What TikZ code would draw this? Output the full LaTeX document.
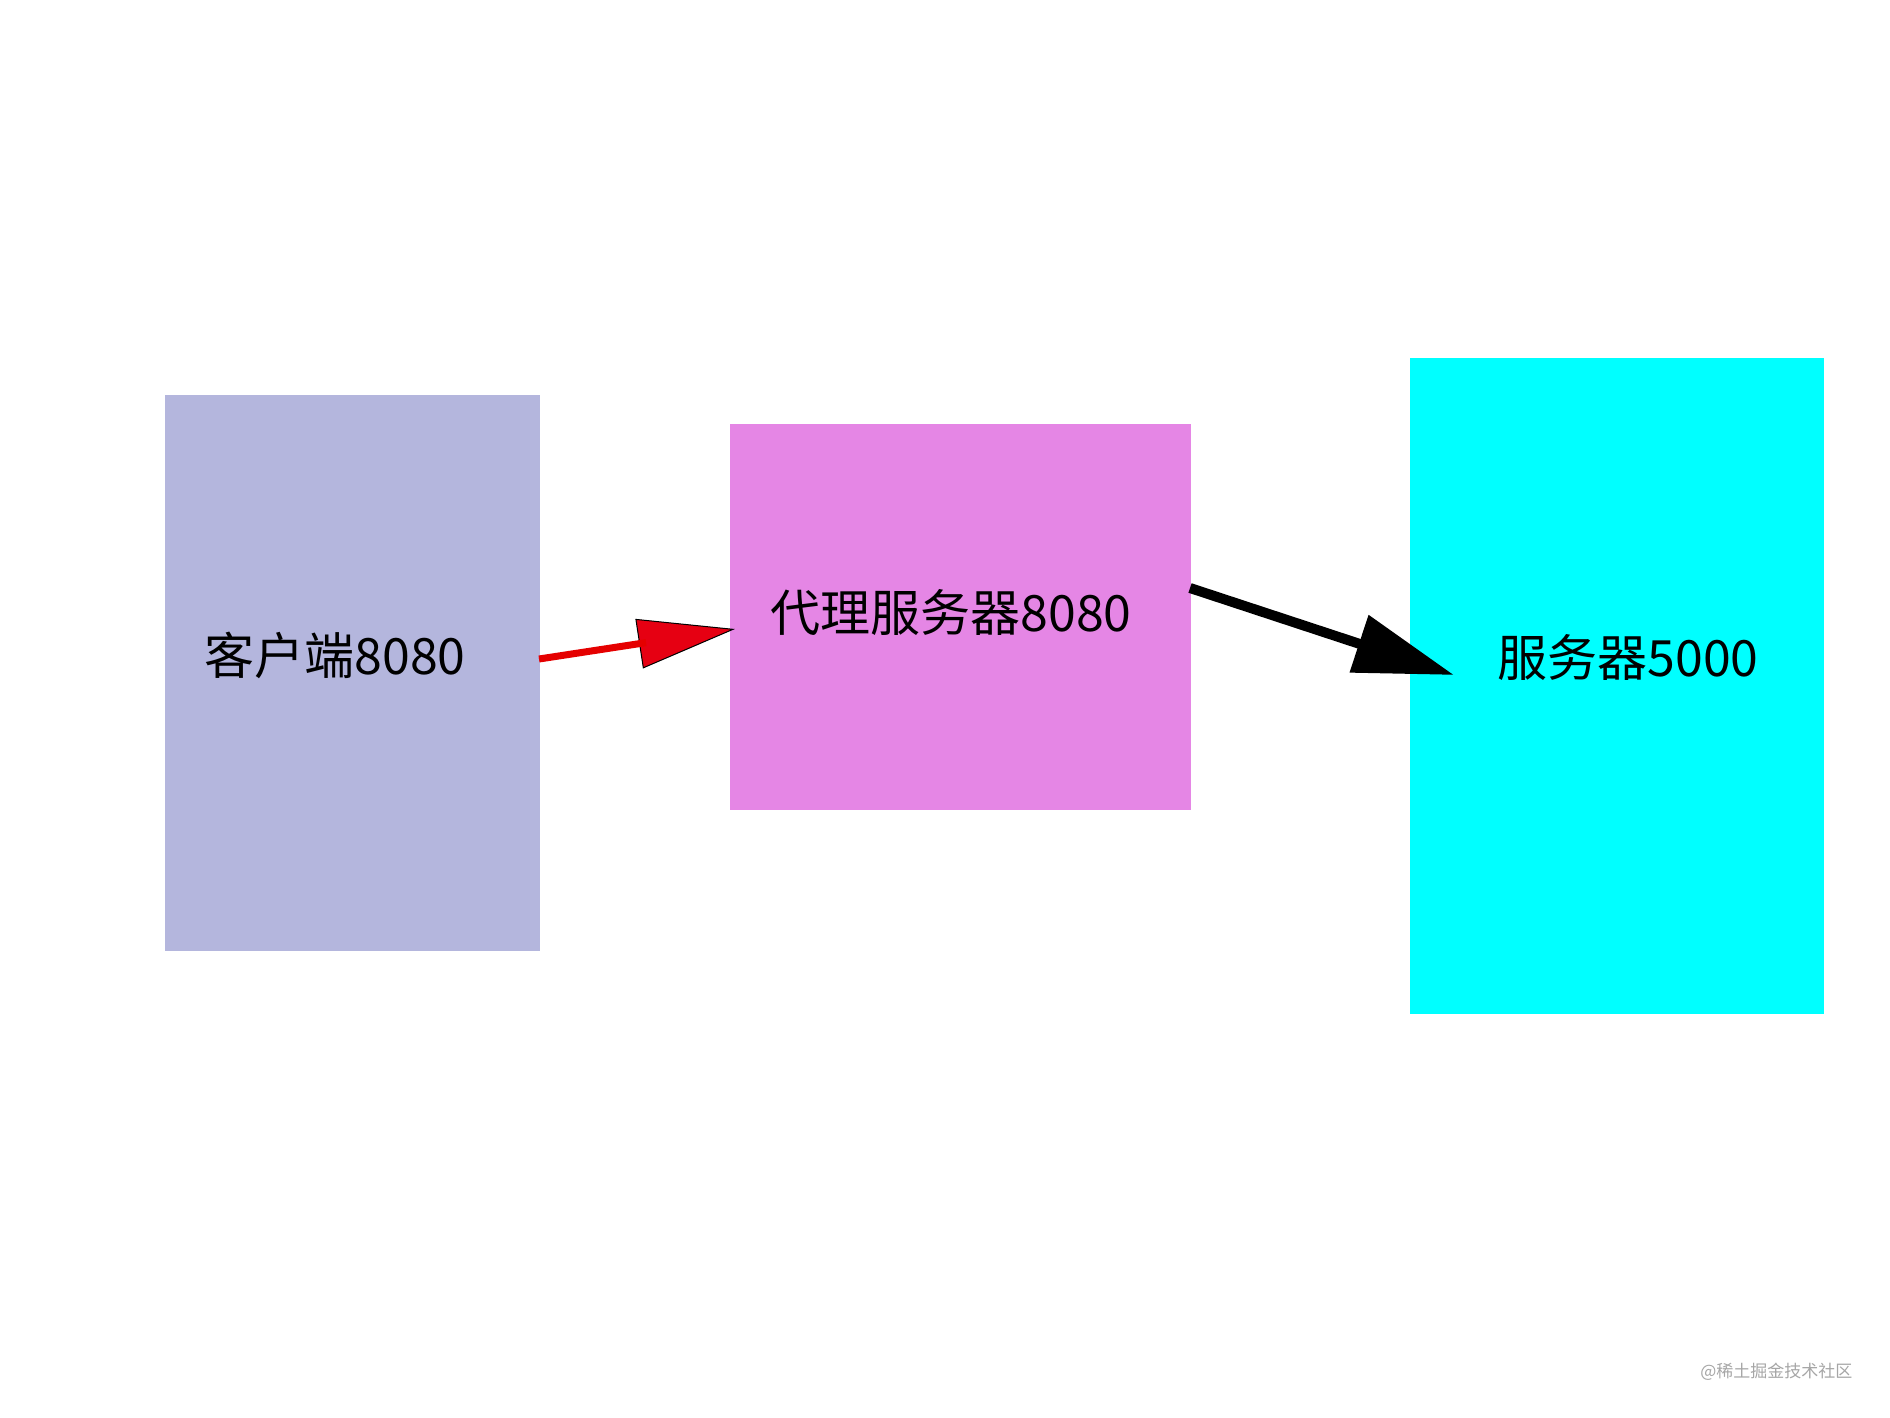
\documentclass[tikz,border=0pt]{standalone}
\usepackage{fontspec}
\newfontfamily\cjk{Noto Sans CJK SC}
\usetikzlibrary{arrows.meta}
\begin{document}
\begin{tikzpicture}[x=1pt,y=-1pt,
  box/.style={draw=none,inner sep=0},
  lbl/.style={font=\cjk\fontsize{50}{55}\selectfont,text=black,inner sep=0}]
\useasboundingbox[fill=white] (0,0) rectangle (1890,1417);
\fill[fill={rgb,255:red,180;green,182;blue,221}] (165,395) rectangle (540,951);
\fill[fill={rgb,255:red,229;green,134;blue,229}] (730,424) rectangle (1191,810);
\fill[fill={rgb,255:red,0;green,255;blue,255}] (1410,358) rectangle (1824,1014);
\node[lbl] (c) at (335,655) {客户端8080};
\node[lbl] (p) at (951,613) {代理服务器8080};
\node[lbl] (s) at (1628,657) {服务器5000};
\coordinate (a1) at (539,659);
\coordinate (a2) at (735,629);
\coordinate (b1) at (1190,588);
\coordinate (b2) at (1454,675);
\draw[draw=black,line width=1pt,fill={rgb,255:red,230;green,0;blue,18},
  -{Triangle[length=97pt,width=50pt,fill={rgb,255:red,230;green,0;blue,18}]}]
  (a1) -- (a2);
\draw[red!90!black,line width=7pt,shorten >=90pt] (a1) -- (a2);
\draw[black,line width=10pt,-{Triangle[length=100pt,width=58pt]}] (b1) -- (b2);
\node[font=\cjk\fontsize{17}{19}\selectfont,text=gray!70,anchor=east] (w) at (1856,1372) {@稀土掘金技术社区};
\end{tikzpicture}
\end{document}
